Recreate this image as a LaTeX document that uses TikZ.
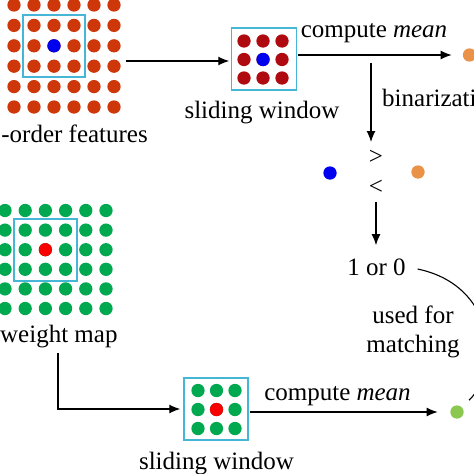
\documentclass[tikz,border=0pt]{standalone}
\usepackage{fontspec}
\setmainfont{Liberation Serif}
\usetikzlibrary{arrows.meta,positioning}
\definecolor{featred}{RGB}{205,55,10}
\definecolor{winred}{RGB}{175,10,15}
\definecolor{pixblue}{RGB}{0,0,240}
\definecolor{avgorange}{RGB}{234,146,72}
\definecolor{wgreen}{RGB}{0,168,80}
\definecolor{wpix}{RGB}{250,0,0}
\definecolor{wavgreen}{RGB}{140,200,80}
\definecolor{boxcyan}{RGB}{70,182,215}

\begin{document}
\begin{tikzpicture}[x=1pt,y=-1pt,
        ball/.style={circle,fill=#1,inner sep=0pt,minimum size=13.3pt},
        winbox/.style={draw=boxcyan,line width=1.5pt,inner sep=0pt,minimum width=#1,minimum height=62pt},
        lbl/.style={font=\fontsize{25}{30}\selectfont,inner sep=1pt},
        arr/.style={-{Latex[length=11pt,width=9pt]},line width=1.2pt}]
    \useasboundingbox (0,0) rectangle (474,474);

    % features with sliding window
    \foreach \i in {0,...,5}
        \foreach \j in {0,...,5}
            \node[ball=featred] (f\i\j) at (14+20*\i,5+20.4*\j) {};
    \node[ball=pixblue] (fpix) at (f22) {};
    \node[winbox=62pt] (fwin) at (f22) {};
    \node[lbl,anchor=base east] (featlbl) at (149,142) {-order features};
    \coordinate (fout) at (126,61);

    % window on the features
    \node[winbox=65pt] (win1) at (264,59) {};
    \foreach \i in {-1,0,1}
        \foreach \j in {-1,0,1}
            \node[ball=winred] (a\i\j) at (263+19*\i,59.5+18.5*\j) {};
    \node[ball=pixblue] (apix) at (a00) {};
    \node[lbl,anchor=base] (win1lbl) at (262,118) {sliding window};

    % mean and binarization
    \node[ball=avgorange] (avg) at (469.5,55) {};
    \node[lbl,anchor=base] (mean1) at (374,37) {compute \textit{mean}};
    \coordinate (bsplit) at (371,63);
    \coordinate (bend) at (371,142);
    \node[lbl,anchor=base west] (binlbl) at (381,106) {binarizati};
    \node[lbl] (gt) at (376,157.5) {>};
    \node[lbl] (lt) at (376,187.5) {<};
    \node[ball=pixblue] (bpix) at (330,173) {};
    \node[ball=avgorange] (bavg) at (418,172) {};
    \node[lbl,anchor=base] (one) at (376.5,275) {1 or 0};
    \node[lbl,anchor=base] (use1) at (413,323) {used for};
    \node[lbl,anchor=base] (use2) at (413,352) {matching};

    % weight map with sliding window
    \foreach \i in {0,...,5}
        \foreach \j in {0,...,5}
            \node[ball=wgreen] (g\i\j) at (5+20.2*\i,210.5+19.6*\j) {};
    \node[ball=wpix] (gpix) at (g22) {};
    \node[winbox=63pt] (gwin) at (45.5,250) {};
    \node[lbl,anchor=base west] (wlbl) at (-1,342) {weight map};
    \coordinate (wout) at (58,353);

    % window on the weight map
    \node[winbox=64pt] (win2) at (216,409) {};
    \foreach \i in {-1,0,1}
        \foreach \j in {-1,0,1}
            \node[ball=wgreen] (b\i\j) at (216.5+18.5*\i,409.5+19*\j) {};
    \node[ball=wpix] (bwpix) at (b00) {};
    \node[lbl,anchor=base] (win2lbl) at (216.5,469) {sliding window};
    \node[ball=wavgreen] (wavg) at (457,412) {};
    \node[lbl,anchor=base] (mean2) at (337.5,400) {compute \textit{mean}};

    % connectors
    \draw[arr,shorten >=1.5pt] (fout) -- (fout -| win1.west);
    \draw[arr,shorten <=1pt,shorten >=11pt] (win1.east |- avg) -- (avg.west);
    \draw[arr] (bsplit) -- (bend);
    \draw[arr,shorten <=6pt,shorten >=12pt] (lt.south) -- (lt.south |- one.north);
    \draw[line width=1.1pt,shorten <=11pt,shorten >=10pt] (one.east) .. controls (495,285) and (502,368) .. (wavg);
    \draw[arr,shorten >=3pt] (wout) |- (win2.west);
    \draw[arr,shorten <=1pt,shorten >=12.5pt] (win2.east |- wavg) -- (wavg.west);
\end{tikzpicture}
\end{document}
